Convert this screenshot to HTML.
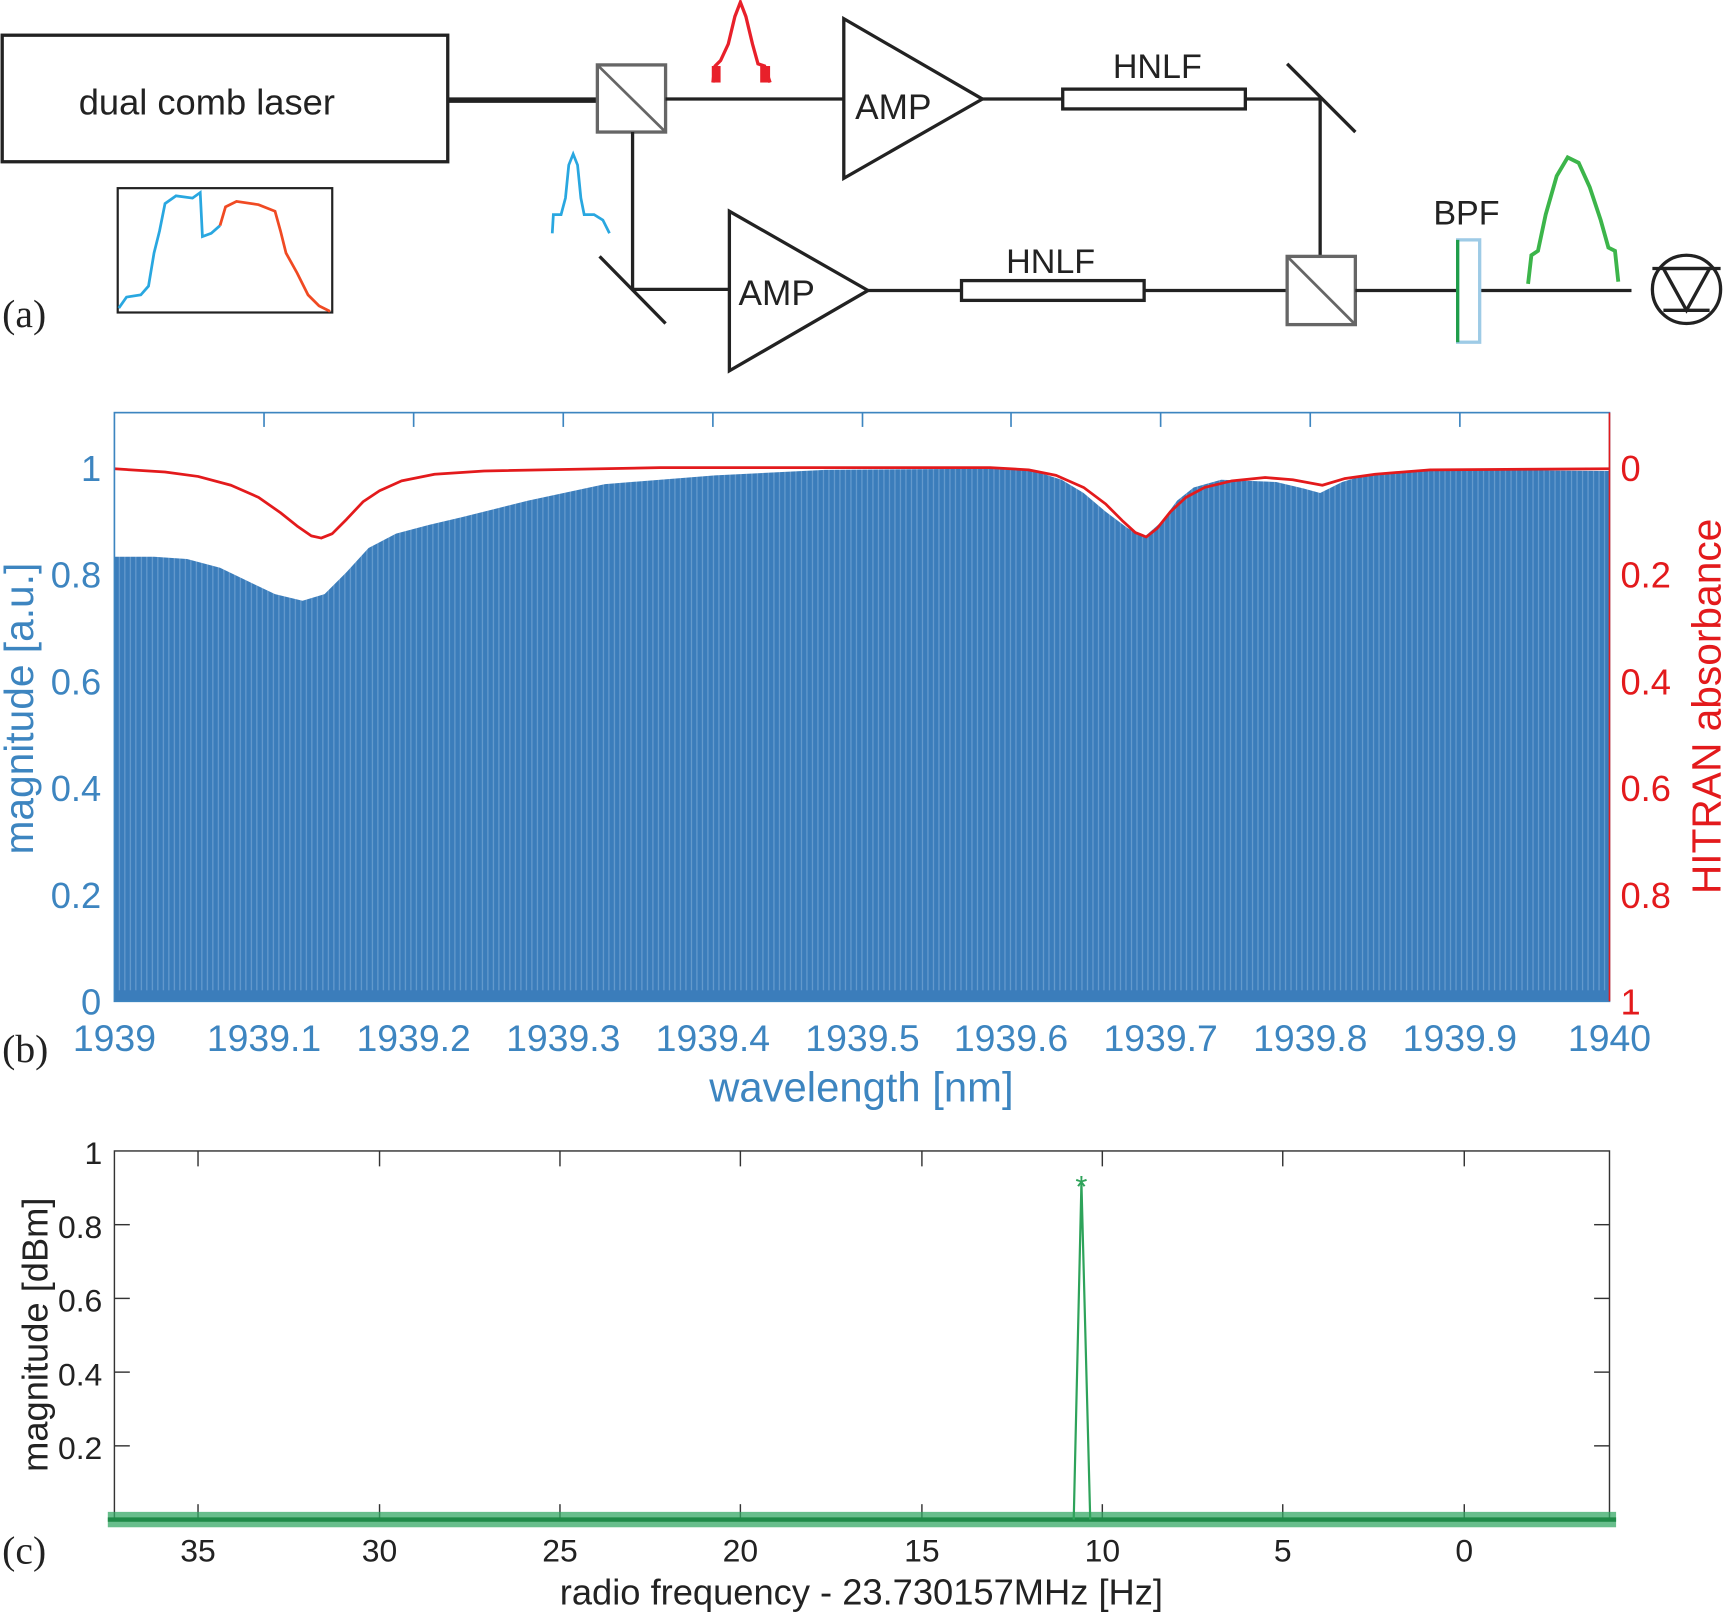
<!DOCTYPE html>
<html><head><meta charset="utf-8"><style>
html,body{margin:0;padding:0;background:#fff;}
svg{display:block;}
text{font-family:"Liberation Sans",sans-serif;}
.serif{font-family:"Liberation Serif",serif;}
</style></head><body>
<svg width="1725" height="1612" viewBox="0 0 1568 1465" preserveAspectRatio="none" xmlns="http://www.w3.org/2000/svg">
<defs>
<pattern id="stripes" width="5" height="10" patternUnits="userSpaceOnUse">
<rect width="5" height="10" fill="#3b7dbb"/>
<rect x="3" width="1" height="10" fill="#6b9fd0"/>
</pattern>
</defs>
<!-- Panel (a) -->
<rect x="2" y="32" width="405" height="115" fill="none" stroke="#222" stroke-width="3"/>
<text x="188" y="104" font-size="33" text-anchor="middle" fill="#222">dual comb laser</text>
<line x1="407" y1="91" x2="543" y2="91" stroke="#222" stroke-width="5"/>
<rect x="543" y="59" width="62" height="61" fill="none" stroke="#666" stroke-width="3"/>
<line x1="543" y1="59" x2="605" y2="120" stroke="#666" stroke-width="2.5"/>
<line x1="605" y1="90" x2="767" y2="90" stroke="#222" stroke-width="3"/>
<line x1="575" y1="120" x2="575" y2="263" stroke="#222" stroke-width="3"/>
<line x1="545" y1="233" x2="605" y2="294" stroke="#222" stroke-width="3"/>
<line x1="575" y1="263" x2="663" y2="263" stroke="#222" stroke-width="3"/>
<path d="M648,75 L650,60 L655,55 L662,40 L668,15 L673,2 L678,15 L684,40 L689,58 L695,60 L700,75" fill="none" stroke="#e8202a" stroke-width="3"/>
<rect x="647" y="60" width="8" height="15" fill="#e8202a"/><rect x="691" y="60" width="9" height="15" fill="#e8202a"/>
<path d="M502,212 L503,195 L510,195 L514,180 L517,150 L521,140 L525,150 L528,180 L531,195 L540,195 L548,200 L554,212" fill="none" stroke="#29a7e0" stroke-width="2.5"/>
<rect x="107" y="171" width="195" height="113" fill="#fff" stroke="#222" stroke-width="2"/>
<path d="M108,280 L115,270 L128,268 L135,260 L140,230 L145,210 L150,185 L160,178 L175,180 L182,175 L184,215 L192,212 L200,205" fill="none" stroke="#29a7e0" stroke-width="2.5"/>
<path d="M200,205 L205,188 L215,183 L235,186 L250,192 L255,210 L260,230 L270,248 L280,268 L290,278 L300,283" fill="none" stroke="#f04a23" stroke-width="2.5"/>
<polygon points="767,17 767,162 893,90" fill="none" stroke="#222" stroke-width="3"/>
<text x="812" y="108" font-size="32" text-anchor="middle" fill="#222">AMP</text>
<line x1="893" y1="90" x2="966" y2="90" stroke="#222" stroke-width="3"/>
<rect x="966" y="81" width="166" height="18" fill="none" stroke="#222" stroke-width="3"/>
<text x="1052" y="71" font-size="31" text-anchor="middle" fill="#222">HNLF</text>
<line x1="1132" y1="90" x2="1200" y2="90" stroke="#222" stroke-width="3"/>
<line x1="1170" y1="58" x2="1232" y2="120" stroke="#222" stroke-width="3"/>
<line x1="1200" y1="90" x2="1200" y2="233" stroke="#222" stroke-width="3"/>
<polygon points="663,192 663,337 789,264" fill="none" stroke="#222" stroke-width="3"/>
<text x="706" y="277" font-size="32" text-anchor="middle" fill="#222">AMP</text>
<line x1="789" y1="264" x2="874" y2="264" stroke="#222" stroke-width="3"/>
<rect x="874" y="255" width="166" height="18" fill="none" stroke="#222" stroke-width="3"/>
<text x="955" y="248" font-size="31" text-anchor="middle" fill="#222">HNLF</text>
<line x1="1040" y1="264" x2="1170" y2="264" stroke="#222" stroke-width="3"/>
<rect x="1170" y="233" width="62" height="62" fill="none" stroke="#666" stroke-width="3"/>
<line x1="1170" y1="233" x2="1232" y2="295" stroke="#666" stroke-width="2.5"/>
<line x1="1232" y1="264" x2="1483" y2="264" stroke="#222" stroke-width="3"/>
<rect x="1325" y="218" width="20" height="93" fill="#fff" stroke="#9ecbe6" stroke-width="3"/>
<line x1="1325" y1="218" x2="1325" y2="311" stroke="#1f9d4a" stroke-width="3"/>
<text x="1333" y="204" font-size="31" text-anchor="middle" fill="#222">BPF</text>
<path d="M1389,258 L1392,232 L1398,228 L1405,195 L1415,160 L1425,143 L1435,148 L1445,170 L1455,200 L1462,225 L1468,228 L1471,256" fill="none" stroke="#3cb54a" stroke-width="3.5"/>
<circle cx="1533" cy="263" r="31" fill="none" stroke="#222" stroke-width="3"/>
<polygon points="1512,244 1554,244 1533,282" fill="none" stroke="#222" stroke-width="3"/>
<line x1="1502" y1="244" x2="1564" y2="244" stroke="#222" stroke-width="3"/>
<line x1="1512" y1="282" x2="1554" y2="282" stroke="#222" stroke-width="3"/>
<text x="2" y="297" font-size="36" class="serif" fill="#222">(a)</text>

<!-- Panel (b) -->
<path d="M104,910 L104,506 L140,506 L170,508 L200,516 L225,528 L250,540 L275,546 L295,540 L315,520 L335,498 L360,485 L390,477 L420,470 L480,455 L550,440 L650,432 L750,427 L900,426 L940,428 L965,436 L985,448 L1005,465 L1025,480 L1040,488 L1055,475 L1070,455 L1085,443 L1110,436 L1160,438 L1185,444 L1200,448 L1220,438 L1240,432 L1300,427 L1463,428 L1463,910 Z" fill="url(#stripes)"/>
<rect x="104" y="900" width="1359" height="10" fill="#3b7dbb"/>
<path d="M104,426 L150,429 L180,433 L210,441 L235,452 L255,466 L270,478 L283,487 L292,489 L302,485 L315,472 L330,456 L345,446 L365,437 L395,431 L440,428 L600,425 L900,425 L935,427 L960,432 L985,443 L1005,458 L1020,473 L1032,484 L1042,488 L1052,480 L1064,465 L1078,452 L1095,443 L1120,437 L1150,434 L1175,436 L1202,441 L1222,435 L1250,431 L1300,427 L1463,426" fill="none" stroke="#e31a1c" stroke-width="2.5" stroke-linejoin="round"/>
<rect x="104" y="375" width="1359" height="535" fill="none" stroke="#3d85c0" stroke-width="1.5"/>
<line x1="1463" y1="375" x2="1463" y2="910" stroke="#e31a1c" stroke-width="1.5"/>
<g stroke="#3d85c0" stroke-width="1.5">
<line x1="240" y1="375" x2="240" y2="388"/><line x1="376" y1="375" x2="376" y2="388"/><line x1="512" y1="375" x2="512" y2="388"/><line x1="648" y1="375" x2="648" y2="388"/><line x1="784" y1="375" x2="784" y2="388"/><line x1="919" y1="375" x2="919" y2="388"/><line x1="1055" y1="375" x2="1055" y2="388"/><line x1="1191" y1="375" x2="1191" y2="388"/><line x1="1327" y1="375" x2="1327" y2="388"/>
</g>
<g font-size="33" fill="#3d85c0" text-anchor="end">
<text x="92" y="922">0</text><text x="92" y="825">0.2</text><text x="92" y="728">0.4</text><text x="92" y="631">0.6</text><text x="92" y="534">0.8</text><text x="92" y="437">1</text>
</g>
<g font-size="33" fill="#e31a1c">
<text x="1473" y="437">0</text><text x="1473" y="534">0.2</text><text x="1473" y="631">0.4</text><text x="1473" y="728">0.6</text><text x="1473" y="825">0.8</text><text x="1473" y="922">1</text>
</g>
<g font-size="34" fill="#3d85c0" text-anchor="middle">
<text x="104" y="955">1939</text><text x="240" y="955">1939.1</text><text x="376" y="955">1939.2</text><text x="512" y="955">1939.3</text><text x="648" y="955">1939.4</text><text x="784" y="955">1939.5</text><text x="919" y="955">1939.6</text><text x="1055" y="955">1939.7</text><text x="1191" y="955">1939.8</text><text x="1327" y="955">1939.9</text><text x="1463" y="955">1940</text>
</g>
<text x="783" y="1001" font-size="38" fill="#3d85c0" text-anchor="middle">wavelength [nm]</text>
<text transform="translate(30,644) rotate(-90)" font-size="37" fill="#3d85c0" text-anchor="middle">magnitude [a.u.]</text>
<text transform="translate(1564,642) rotate(-90)" font-size="37" fill="#e31a1c" text-anchor="middle">HITRAN absorbance</text>
<text x="2" y="965" font-size="36" class="serif" fill="#222">(b)</text>

<!-- Panel (c) -->
<rect x="104" y="1046" width="1359" height="335" fill="none" stroke="#333" stroke-width="1.3"/>
<g stroke="#333" stroke-width="1.3">
<line x1="180" y1="1046" x2="180" y2="1060"/><line x1="345" y1="1046" x2="345" y2="1060"/><line x1="509" y1="1046" x2="509" y2="1060"/><line x1="673" y1="1046" x2="673" y2="1060"/><line x1="838" y1="1046" x2="838" y2="1060"/><line x1="1002" y1="1046" x2="1002" y2="1060"/><line x1="1166" y1="1046" x2="1166" y2="1060"/><line x1="1331" y1="1046" x2="1331" y2="1060"/>
<line x1="180" y1="1381" x2="180" y2="1367"/><line x1="345" y1="1381" x2="345" y2="1367"/><line x1="509" y1="1381" x2="509" y2="1367"/><line x1="673" y1="1381" x2="673" y2="1367"/><line x1="838" y1="1381" x2="838" y2="1367"/><line x1="1002" y1="1381" x2="1002" y2="1367"/><line x1="1166" y1="1381" x2="1166" y2="1367"/><line x1="1331" y1="1381" x2="1331" y2="1367"/>
<line x1="104" y1="1113" x2="118" y2="1113"/><line x1="104" y1="1180" x2="118" y2="1180"/><line x1="104" y1="1247" x2="118" y2="1247"/><line x1="104" y1="1314" x2="118" y2="1314"/>
<line x1="1463" y1="1113" x2="1449" y2="1113"/><line x1="1463" y1="1180" x2="1449" y2="1180"/><line x1="1463" y1="1247" x2="1449" y2="1247"/><line x1="1463" y1="1314" x2="1449" y2="1314"/>
</g>
<rect x="98" y="1374" width="1371" height="14" fill="#36a865" opacity="0.75"/>
<rect x="98" y="1379" width="1371" height="4" fill="#1f8a48"/>
<path d="M976,1381 L983,1075 L991,1381" fill="none" stroke="#2ea35a" stroke-width="2"/>
<text x="983" y="1088" font-size="28" fill="#2ea35a" text-anchor="middle">*</text>
<g font-size="29" fill="#222" text-anchor="end">
<text x="93" y="1058">1</text><text x="93" y="1125">0.8</text><text x="93" y="1192">0.6</text><text x="93" y="1259">0.4</text><text x="93" y="1326">0.2</text>
</g>
<g font-size="29" fill="#222" text-anchor="middle">
<text x="180" y="1419">35</text><text x="345" y="1419">30</text><text x="509" y="1419">25</text><text x="673" y="1419">20</text><text x="838" y="1419">15</text><text x="1002" y="1419">10</text><text x="1166" y="1419">5</text><text x="1331" y="1419">0</text>
</g>
<text x="783" y="1458" font-size="33" fill="#222" text-anchor="middle">radio frequency - 23.730157MHz [Hz]</text>
<text transform="translate(43,1213) rotate(-90)" font-size="33" fill="#222" text-anchor="middle">magnitude [dBm]</text>
<text x="2" y="1421" font-size="36" class="serif" fill="#222">(c)</text>
</svg>
</body></html>
